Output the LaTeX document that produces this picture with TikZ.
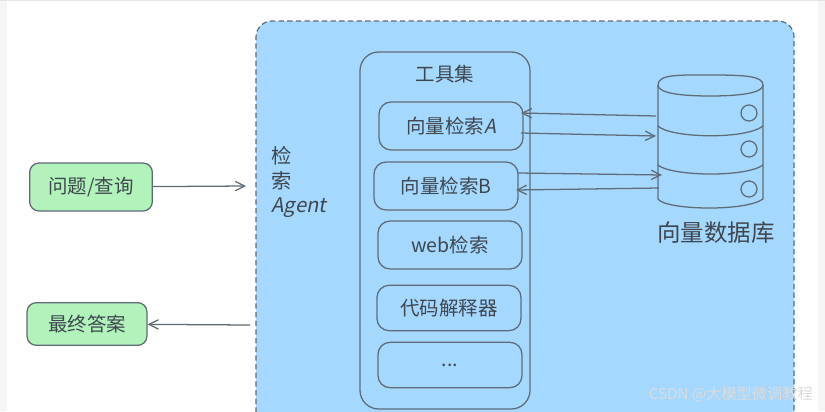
\documentclass[tikz,border=0pt]{standalone}
\usepackage{fontspec}
\setmainfont[AutoFakeSlant=0.2]{Noto Sans CJK SC}
\usetikzlibrary{arrows.meta}
\definecolor{panelblue}{HTML}{A5D8FF}
\definecolor{boxgreen}{HTML}{B2F2BB}
\definecolor{inkgrey}{HTML}{5F6B75}
\definecolor{txtgrey}{HTML}{3F474E}
\tikzset{
  x=0.75pt,y=-0.75pt,
  every node/.style={text=txtgrey,font=\fontsize{14.6}{17}\selectfont,inner sep=0pt},
  line/.style={draw=inkgrey,line width=0.95pt},
  toolbox/.style={line,rounded corners=9pt,anchor=center},
  greenbox/.style={line,fill=boxgreen,rounded corners=7pt,anchor=center},
  flow/.style={line,-{Straight Barb[length=7pt,width=7pt]}},
}
\begin{document}
\begin{tikzpicture}
\useasboundingbox (0,0) rectangle (825,411);
\fill[white] (0,0) rectangle (825,411);
\fill[black!4] (0,0) rectangle (7,411);
\fill[black!4] (818,0) rectangle (825,411);
\fill[black!10] (0,0) rectangle (825,1);
% panel
\path[fill=panelblue,draw=inkgrey,line width=0.9pt,dash pattern=on 4pt off 2.5pt,rounded corners=12pt]
  (256,430) -- (256,21) -- (794,21) -- (794,430);
\node (agent) at (299,182) [align=left,anchor=center,font=\fontsize{15.2}{18.5}\selectfont,text width=41pt] {检\\索\\\textit{Agent}};
% tool set
\draw[line,rounded corners=14pt] (360,409) rectangle (530,52);
\node (toolset) at (445,74) {工具集};
\node[toolbox,minimum width=108pt,minimum height=36pt] (a) at (451,126) {向量检索\textit{A}};
\node[toolbox,minimum width=108pt,minimum height=36pt] (b) at (446,186) {向量检索B};
\node[toolbox,minimum width=108pt,minimum height=36pt] (web) at (450,245) {web检索};
\node[toolbox,minimum width=108pt,minimum height=34pt] (code) at (449,308) {代码解释器};
\node[toolbox,minimum width=108pt,minimum height=34pt] (more) at (450,365) {...};
% inputs
\node[greenbox,minimum width=92pt,minimum height=36pt] (q) at (91,187) {问题/查询};
\node[greenbox,minimum width=90pt,minimum height=32pt] (ans) at (87,324) {最终答案};
\coordinate (agentin) at (246,186);
\coordinate (agentout) at (250,325);
\draw[flow] (q) -- (agentin);
\draw[flow] (agentout) -- (ans);
% database
\draw[line] (658,85) -- (658,199) .. controls (665,210) and (745,212) .. (763,199) -- (763,85);
\draw[line] (658,85) .. controls (658,74) and (680,75) .. (710,75) .. controls (745,75) and (763,76) .. (763,85)
  .. controls (763,93) and (740,96) .. (710,96) .. controls (680,96) and (658,93) .. (658,85) -- cycle;
\draw[line] (658,126) .. controls (670,138) and (745,140) .. (763,126);
\draw[line] (658,165) .. controls (670,176) and (745,178) .. (763,165);
\draw[line] (749,113) circle (8);
\draw[line] (749,149) circle (8);
\draw[line] (749,189) circle (8);
\node[font=\fontsize{17.6}{20}\selectfont] (dbl) at (716,233) {向量数据库};
\coordinate (d1) at (656,116);
\coordinate (d2) at (656,136);
\coordinate (d3) at (662,175);
\coordinate (d4) at (659,188);
\coordinate (a1) at (521,113);
\coordinate (a2) at (521,133);
\coordinate (b1) at (518,173);
\coordinate (b2) at (516,190);
\draw[flow] (d1) -- (a1);
\draw[flow] (a2) -- (d2);
\draw[flow] (b1) -- (d3);
\draw[flow] (d4) -- (b2);
% watermark
\node[text=white!72!gray,font=\fontsize{11.4}{13}\selectfont,anchor=east] (wm) at (813,394) {CSDN @大模型微调教程};
\end{tikzpicture}
\end{document}
